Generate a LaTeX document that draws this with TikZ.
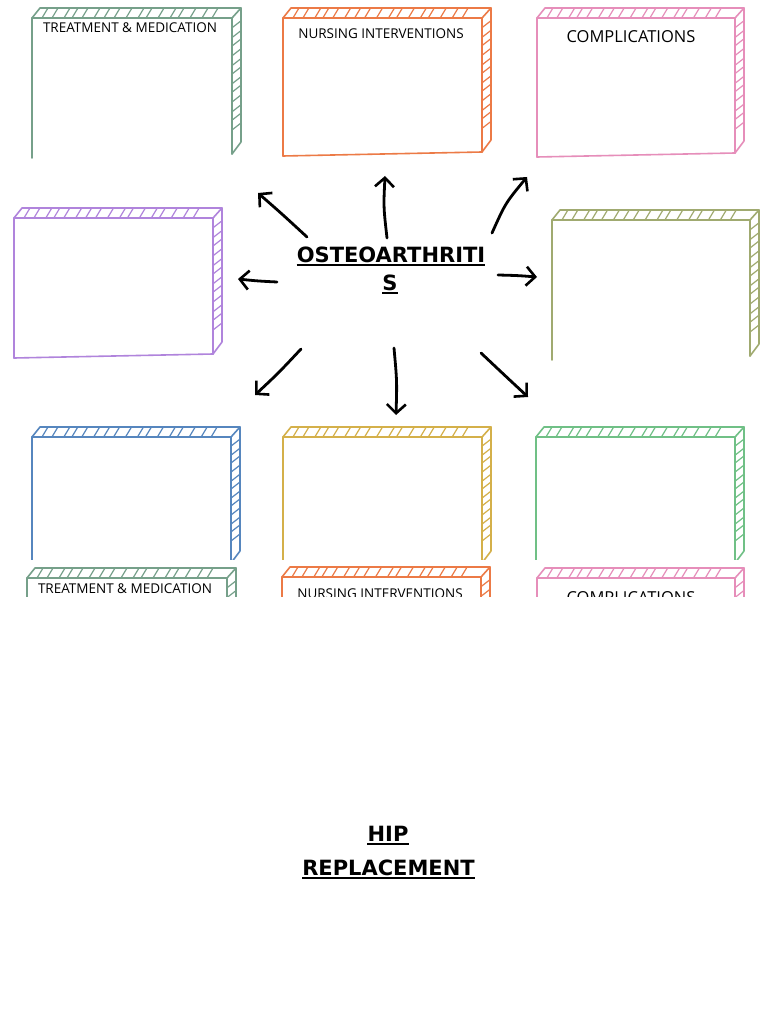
\documentclass[tikz,border=0pt]{standalone}
\usepackage{fontspec}
\usetikzlibrary{arrows.meta}
\newfontfamily\labelfont{Open Sans}
\newfontfamily\titlefont{DejaVu Sans}
\definecolor{cgreen}{RGB}{118,160,138}
\definecolor{corange}{RGB}{236,122,70}
\definecolor{cpink}{RGB}{230,142,186}
\definecolor{cpurple}{RGB}{176,132,220}
\definecolor{colive}{RGB}{160,170,112}
\definecolor{cblue}{RGB}{86,134,190}
\definecolor{cyellow}{RGB}{212,176,74}
\definecolor{cgreentwo}{RGB}{112,192,134}
\tikzset{
  sk/.style={draw=#1, line width=1.6pt, line cap=round, line join=round},
  hat/.style={draw=#1, line width=1.2pt, line cap=round},
  arr/.style={draw=black, line width=2.8pt, line cap=round,
     -{Straight Barb[length=9pt,width=19pt,line width=2.6pt]}},
  boxlabel/.style={font=\labelfont\fontsize{13.5}{16}\selectfont, text=black, anchor=base, inner sep=0pt},
  bigtitle/.style={font=\titlefont\bfseries\fontsize{21}{24}\selectfont, anchor=base, inner sep=0pt},
  uline/.style={line width=2pt}
}
\newcommand\skbox[7]{%
\begin{scope}[shift={(#3,#4)}]
\coordinate (#1) at ({#5/2},{#6/2});
\draw[sk=#2] (0,#6) -- (0,0) -- (#5,0) -- (#5,{#6-4});
\draw[sk=#2] (0,0) -- (8,-10) -- ({#5+9},-10) -- ({#5+9},{#6-16}) -- (#5,{#6-4});
\draw[sk=#2] (#5,0) -- ({#5+9},-10);
\ifnum#7=1\relax \draw[sk=#2] (0,#6) -- (#5,{#6-4});\fi
\foreach \t in {0.05,0.1,0.16,0.2,0.25,0.31,0.36,0.41,0.47,0.53,0.57,0.63,0.69,0.73,0.79,0.85,0.9}
  \draw[hat=#2] ({\t*#5},0) -- ({\t*#5+6},-10);
\foreach \s in {0.07,0.14,0.2,0.27,0.34,0.4,0.47,0.53,0.6,0.67,0.73,0.8}
  \draw[hat=#2] (#5,{\s*#6}) -- ({#5+9},{\s*#6-7});
\end{scope}}
\begin{document}
\begin{tikzpicture}[x=1pt,y=-1pt]
\useasboundingbox (0,0) rectangle (768,1024);
\fill[white] (0,0) rectangle (768,1024);

% row 1
\skbox{b1}{cgreen}{32}{18}{200}{140}{0}
\skbox{b2}{corange}{283}{18}{199}{138}{1}
\skbox{b3}{cpink}{537}{18}{198}{139}{1}
\node[boxlabel] (l1) at (130,33) {TREATMENT \& MEDICATION};
\node[boxlabel] (l2) at (381,39) {NURSING INTERVENTIONS};
\node[boxlabel, font=\labelfont\fontsize{16.5}{19}\selectfont] (l3) at (631,43) {COMPLICATIONS};

% row 2 (middle)
\skbox{b4}{cpurple}{14}{218}{199}{140}{1}
\skbox{b5}{colive}{552}{220}{198}{140}{0}

% row 3
\begin{scope}
\clip (0,0) rectangle (768,559);
\skbox{b6}{cblue}{32}{437}{199}{130}{0}
\skbox{b7}{cyellow}{283}{437}{199}{130}{0}
\skbox{b8}{cgreentwo}{536}{437}{199}{130}{0}
\end{scope}

% row 4 (cut)
\begin{scope}
\clip (0,562) rectangle (768,596);
\skbox{b9}{cgreen}{27}{578}{200}{140}{0}
\skbox{b10}{corange}{282}{577}{199}{138}{1}
\skbox{b11}{cpink}{537}{578}{198}{139}{1}
\node[boxlabel] (l9) at (125,593) {TREATMENT \& MEDICATION};
\node[boxlabel] (l10) at (380,598) {NURSING INTERVENTIONS};
\node[boxlabel, font=\labelfont\fontsize{16.5}{19}\selectfont] (l11) at (631,603) {COMPLICATIONS};
\end{scope}

% centre title
\node[bigtitle] (oa) at (391,262) {OSTEOARTHRITI};
\node[bigtitle] (oas) at (390,290) {S};
\draw[uline] ([yshift=-3pt]oa.base west) -- ([yshift=-3pt]oa.base east);
\draw[uline] ([yshift=-3pt]oas.base west) -- ([yshift=-3pt]oas.base east);

% arrows
\coordinate (s1) at (307,237); \coordinate (e1) at (258,193);
\coordinate (s2) at (387,238); \coordinate (e2) at (385,176);
\coordinate (s3) at (492,233); \coordinate (e3) at (527,177);
\coordinate (s4) at (277,282); \coordinate (e4) at (238,279);
\coordinate (s5) at (498,275); \coordinate (e5) at (537,277);
\coordinate (s6) at (301,349); \coordinate (e6) at (255,395);
\coordinate (s7) at (394,348); \coordinate (e7) at (396,415);
\coordinate (s8) at (481,353); \coordinate (e8) at (528,397);
\draw[arr] (s1) .. controls (281.5,213.5) .. (e1);
\draw[arr] (s2) .. controls (383.5,207) .. (e2);
\draw[arr] (s3) .. controls (505.5,203) .. (e3);
\draw[arr] (s4) .. controls (257.5,281) .. (e4);
\draw[arr] (s5) .. controls (517.5,275.5) .. (e5);
\draw[arr] (s6) .. controls (278.5,373) .. (e6);
\draw[arr] (s7) .. controls (397,381.5) .. (e7);
\draw[arr] (s8) .. controls (506.5,377) .. (e8);

% bottom title
\node[bigtitle] (hip) at (388,841) {HIP};
\node[bigtitle] (repl) at (388.5,875) {REPLACEMENT};
\draw[uline] ([yshift=-3pt]hip.base west) -- ([yshift=-3pt]hip.base east);
\draw[uline] ([yshift=-3pt]repl.base west) -- ([yshift=-3pt]repl.base east);
\end{tikzpicture}
\end{document}
